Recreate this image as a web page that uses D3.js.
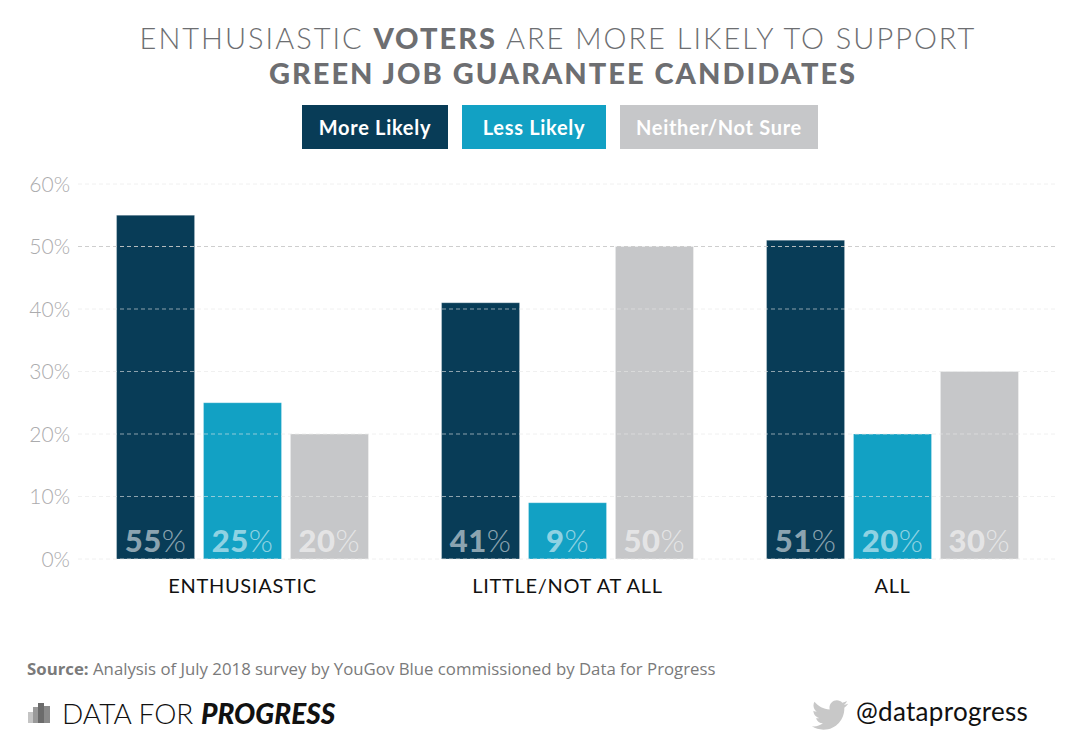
<!DOCTYPE html>
<html>
<head>
<meta charset="utf-8">
<script src="https://cdn.jsdelivr.net/npm/d3@7"></script>
<style>
  body { margin: 0; background: #fff; }
  svg { display: block; font-family: Lato, "Open Sans", sans-serif; }
</style>
</head>
<body>
<svg id="svg" width="1069" height="752"></svg>
<script>
const WIDTH = 1069;
const HEIGHT = 752;

// chart data
const groups = ["ENTHUSIASTIC", "LITTLE/NOT AT ALL", "ALL"];
const seriesNames = ["More Likely", "Less Likely", "Neither/Not Sure"];
const moreLikely = [55, 41, 51];
const lessLikely = [25, 9, 20];
const neitherNotSure = [20, 50, 30];
const yTicks = [0, 10, 20, 30, 40, 50, 60];
const colors = ["#083c57", "#12a1c4", "#c6c7c9"];

const values = [moreLikely, lessLikely, neitherNotSure];
const rows = [];
groups.forEach((g, gi) => seriesNames.forEach((s, si) => rows.push({ group: g, series: s, si, value: values[si][gi] })));

const svg = d3.select("#svg");

// title
const title = svg.append("g").attr("fill", "#6d6e71").attr("text-anchor", "middle")
  .style("font-size", "29px").style("letter-spacing", "2px");
const t1 = title.append("text").attr("x", 558).attr("y", 49);
t1.append("tspan").attr("font-weight", 300).text("ENTHUSIASTIC ");
t1.append("tspan").attr("font-weight", 900).text("VOTERS");
t1.append("tspan").attr("font-weight", 300).text(" ARE MORE LIKELY TO SUPPORT");
title.append("text").attr("x", 563).attr("y", 84).attr("font-weight", 900).text("GREEN JOB GUARANTEE CANDIDATES");

// legend
const legendBoxes = [[302, 146], [462, 144], [620, 198]];
const legend = svg.append("g").selectAll("g").data(seriesNames).join("g");
legend.append("rect")
  .attr("x", (d, i) => legendBoxes[i][0]).attr("y", 105)
  .attr("width", (d, i) => legendBoxes[i][1]).attr("height", 44)
  .attr("fill", (d, i) => colors[i]);
legend.append("text")
  .attr("x", (d, i) => legendBoxes[i][0] + legendBoxes[i][1] / 2).attr("y", 135)
  .attr("text-anchor", "middle").attr("fill", "#fff")
  .attr("font-weight", 700).style("font-size", "20px").style("letter-spacing", "0.7px")
  .text(d => d);

// scales
const x0 = d3.scaleBand().domain(groups).range([80, 1055]).paddingInner(0.225).paddingOuter(0.1125);
const x1 = d3.scaleBand().domain(seriesNames).range([0, x0.bandwidth()]).paddingInner(0.103).paddingOuter(0);
const y = d3.scaleLinear().domain([0, 60]).range([559, 184]);

// y axis labels
const yAxis = svg.append("g").attr("transform", "translate(70,0)")
  .call(d3.axisLeft(y).tickValues(yTicks).tickSize(0).tickPadding(0).tickFormat(d => d + "%"));
yAxis.select(".domain").remove();
yAxis.selectAll("text").attr("fill", "#ababad").style("font-size", "21px")
  .style("font-family", "Lato, sans-serif").attr("font-weight", 300).attr("dy", "0.35em");

// bars
svg.append("g").selectAll("rect").data(rows).join("rect")
  .attr("x", d => x0(d.group) + x1(d.series))
  .attr("y", d => y(d.value))
  .attr("width", x1.bandwidth())
  .attr("height", d => y(0) - y(d.value))
  .attr("fill", d => colors[d.si])
  .attr("stroke", "#ffffff").attr("stroke-opacity", 0.25).attr("stroke-width", 1);

// grid lines (drawn over bars, faint)
svg.append("g").selectAll("line").data(yTicks).join("line")
  .attr("x1", 78).attr("x2", 1056)
  .attr("y1", d => y(d)).attr("y2", d => y(d))
  .attr("stroke", d => d === 50 ? "#c9c9c9" : "#e6e6e6")
  .attr("stroke-opacity", d => d === 50 ? 0.9 : 0.6)
  .attr("stroke-width", 1)
  .attr("stroke-dasharray", "4,3");

// value labels
const labels = svg.append("g").selectAll("text").data(rows).join("text")
  .attr("x", d => x0(d.group) + x1(d.series) + x1.bandwidth() / 2)
  .attr("y", y(0) - 7)
  .attr("text-anchor", "middle")
  .attr("fill", "#ffffff").attr("fill-opacity", 0.55)
  .style("font-size", "31px").style("letter-spacing", "0.5px");
labels.append("tspan").attr("font-weight", 900).text(d => d.value);
labels.append("tspan").attr("font-weight", 300).text("%");

// category labels
svg.append("g").selectAll("text").data(groups).join("text")
  .attr("x", d => x0(d) + x0.bandwidth() / 2)
  .attr("y", 593)
  .attr("text-anchor", "middle").attr("fill", "#111")
  .style("font-size", "20px").style("letter-spacing", "0.7px")
  .text(d => d);

// source
const src = svg.append("text").attr("x", 27).attr("y", 675).attr("fill", "#7a7a7a")
  .style("font-size", "16.8px").style("font-family", "'Open Sans', sans-serif");
src.append("tspan").attr("font-weight", 700).text("Source:");
src.append("tspan").text(" Analysis of July 2018 survey by YouGov Blue commissioned by Data for Progress");

// footer logo
const logoBars = [[28, 712, 6, "#c4c4c4"], [33, 707, 6, "#9a9a9a"], [38, 703, 6, "#6b6b6b"], [44, 706, 6, "#8a8a8a"]];
svg.append("g").selectAll("rect").data(logoBars).join("rect")
  .attr("x", d => d[0]).attr("y", d => d[1]).attr("width", d => d[2]).attr("height", d => 723 - d[1])
  .attr("fill", d => d[3]);
const brand = svg.append("text").attr("x", 62).attr("y", 724).attr("fill", "#111").style("font-size", "28px");
brand.append("tspan").attr("font-weight", 300).text("DATA FOR ");
brand.append("tspan").attr("font-weight", 900).attr("font-style", "italic").text("PROGRESS");

// twitter
svg.append("path")
  .attr("transform", "translate(812,697) scale(1.5)")
  .attr("fill", "#c8c8c8")
  .attr("d", "M23.954 4.569c-.885.389-1.830.654-2.825.775 1.014-.611 1.794-1.574 2.163-2.723-.951.555-2.005.959-3.127 1.184-.896-.959-2.173-1.559-3.591-1.559-2.717 0-4.920 2.203-4.920 4.917 0 .39.045.765.127 1.124C7.691 8.094 4.066 6.13 1.64 3.161c-.427.722-.666 1.561-.666 2.475 0 1.71.87 3.213 2.188 4.096-.807-.026-1.566-.248-2.228-.616v.061c0 2.385 1.693 4.374 3.946 4.827-.413.111-.849.171-1.296.171-.314 0-.615-.03-.916-.086.631 1.953 2.445 3.377 4.604 3.417-1.68 1.319-3.809 2.105-6.102 2.105-.39 0-.779-.023-1.17-.067 2.189 1.394 4.768 2.209 7.557 2.209 9.054 0 13.999-7.496 13.999-13.986 0-.209 0-.42-.015-.63.961-.689 1.8-1.56 2.46-2.548l-.047-.02z");
svg.append("text").attr("x", 856).attr("y", 721).attr("fill", "#111")
  .style("font-size", "26px").attr("font-weight", 400).style("letter-spacing", "0.3px").text("@dataprogress");
</script>
</body>
</html>
